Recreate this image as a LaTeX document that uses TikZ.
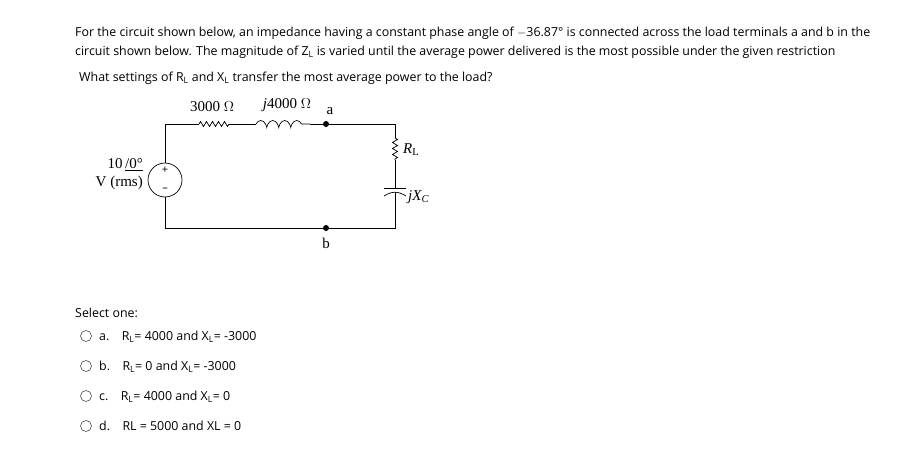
\documentclass[tikz,border=0pt]{standalone}
\usepackage{fontspec}
\setmainfont{Open Sans}
\newfontfamily\ser{Liberation Serif}
\usetikzlibrary{decorations.pathmorphing}
\begin{document}
\begin{tikzpicture}[x=1pt,y=-1pt,
  txt/.style={anchor=base west,inner sep=0pt,font=\fontsize{12.4}{14}\selectfont},
  ctxt/.style={inner sep=0pt,font=\ser\fontsize{15}{16}\selectfont},
  wire/.style={line width=0.7pt},
  dotn/.style={circle,fill,inner sep=0pt,minimum size=6pt},
  radio/.style={circle,draw=black!70,line width=0.6pt,inner sep=0pt,minimum size=11pt}]
\useasboundingbox (0,0) rectangle (911,474);
\node[txt] (l1) at (75,36) {For the circuit shown below, an impedance having a constant phase angle of $-$36.87° is connected across the load terminals a and b in the};
\node[txt] (l2) at (75,55) {circuit shown below. The magnitude of Z\textsubscript{L} is varied until the average power delivered is the most possible under the given restriction};
\node[txt] (l3) at (79,81) {What settings of R\textsubscript{L} and X\textsubscript{L} transfer the most average power to the load?};
% circuit
\coordinate (tl) at (165,124); \coordinate (bl) at (165,228);
\coordinate (tr) at (395,124); \coordinate (br) at (395,228);
\node[dotn] (a) at (326,124) {};
\node[dotn] (b) at (326,228) {};
\node[circle,draw,wire,minimum size=34pt,inner sep=0pt] (src) at (165,180) {};
\node[font=\fontsize{11}{11}\selectfont,inner sep=0pt] (pl) at (165,170) {+};
\node[font=\fontsize{11}{11}\selectfont,inner sep=0pt] (mn) at (165,190) {--};
\draw[wire] (src.north) -- (tl) -- (199,124);
\draw[wire,decorate,decoration={zigzag,segment length=6pt,amplitude=2.5pt}] (199,124) -- (229,124);
\draw[wire] (229,124) -- (256,124);
\draw[wire,decorate,decoration={coil,aspect=0.5,segment length=12pt,amplitude=3.5pt}] (256,124) -- (310,124);
\draw[wire] (310,124) -- (a) -- (tr) -- (395,138);
\draw[wire,decorate,decoration={zigzag,segment length=6pt,amplitude=2.5pt}] (395,138) -- (395,160);
\draw[wire] (395,160) -- (395,188);
\draw[wire] (384,188) -- (406,188);
\draw[wire] (384,196) .. controls (392,191) and (398,191) .. (406,196);
\draw[wire] (395,192) -- (br) -- (b) -- (bl) -- (src.south);
\node[ctxt] (r1) at (212,107) {3000 $\Omega$};
\node[ctxt] (r2) at (287,105) {\textit{j}4000 $\Omega$};
\node[ctxt] (la) at (330,111) {a};
\node[ctxt] (lb) at (326,243) {b};
\node[ctxt,anchor=west] (lrl) at (403,150) {\textit{R}\textsubscript{L}};
\node[ctxt,anchor=west] (lxc) at (408,197) {\textit{jX\textsubscript{C}}};
\node[ctxt,anchor=east] (v1) at (143,165) {10\,\underline{/0°}};
\node[ctxt,anchor=east] (v2) at (143,183) {V (rms)};
% options
\node[txt] (sel) at (75,317) {Select one:};
\node[radio] (oa) at (86,336) {}; \node[txt] (ta) at (99,340) {a.\quad R\textsubscript{L}= 4000 and X\textsubscript{L}= -3000};
\node[radio] (ob) at (86,366) {}; \node[txt] (tb) at (99,370) {b.\quad R\textsubscript{L}= 0 and X\textsubscript{L}= -3000};
\node[radio] (oc) at (86,396) {}; \node[txt] (tc) at (99,400) {c.\quad R\textsubscript{L}= 4000 and X\textsubscript{L}= 0};
\node[radio] (od) at (86,426) {}; \node[txt] (td) at (99,430) {d.\quad RL = 5000 and XL = 0};
\end{tikzpicture}
\end{document}
